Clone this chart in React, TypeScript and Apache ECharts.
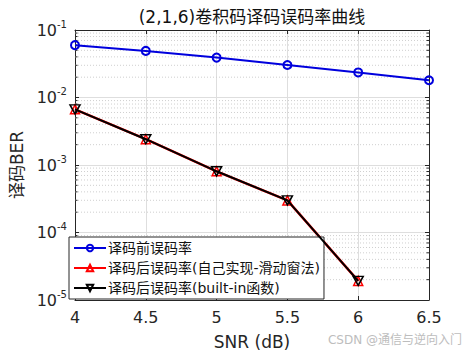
import React, { useEffect, useRef } from "react";
import * as echarts from "echarts";

const snr = [4, 4.5, 5, 5.5, 6, 6.5];
const berBefore = [0.0596, 0.049, 0.039, 0.0303, 0.0235, 0.018];
const berOwn = [0.00667, 0.00241, 0.000807, 0.000299, 0.0000192];
const berBuiltin = [0.00667, 0.00241, 0.000807, 0.000299, 0.0000192];
const seriesNames = ["译码前误码率", "译码后误码率(自己实现-滑动窗法)", "译码后误码率(built-in函数)"];
const minorGrid: number[] = [];
for (let e = -5; e < -1; e++) {
  for (let m = 2; m <= 9; m++) minorGrid.push(m * Math.pow(10, e));
}

const FONT = "'DejaVu Sans', 'Noto Sans CJK SC', sans-serif";
const downTri = "path://M0,0 L10,0 L5,9 Z";
const X_MIN = 4;
const X_MAX = 6.5;

export default function App() {
  const ref = useRef<HTMLDivElement>(null);
  useEffect(() => {
    if (!ref.current) return;
    const chart = echarts.init(ref.current, undefined, { renderer: "svg" });
    const pair = (ys: number[]) => ys.map((y, i) => [snr[i], y]);
    const axisColor = "#262626";
    chart.setOption({
      animation: false,
      backgroundColor: "#fff",
      textStyle: { fontFamily: FONT },
      title: {
        text: "(2,1,6)卷积码译码误码率曲线",
        left: 247,
        textAlign: "center",
        top: 3,
        textStyle: { fontSize: 17, fontWeight: "normal", color: "#111", fontFamily: FONT },
      },
      grid: { left: 65, right: 45, top: 30, bottom: 53, show: false },
      legend: {
        data: seriesNames,
        orient: "vertical",
        left: 69,
        top: 237,
        backgroundColor: "#fff",
        borderColor: axisColor,
        borderWidth: 1,
        borderRadius: 0,
        padding: [2, 4, 2, 4],
        itemGap: 2,
        itemWidth: 32,
        itemHeight: 8,
        textStyle: { fontSize: 14, color: "#111", fontFamily: FONT, lineHeight: 18, padding: [0, 0, 0, -3] },
      },
      xAxis: [
        {
          type: "value",
          min: X_MIN,
          max: X_MAX,
          interval: 0.5,
          name: "SNR (dB)",
          nameLocation: "middle",
          nameGap: 33,
          nameTextStyle: { fontSize: 17, color: axisColor, fontFamily: FONT },
          axisLine: { show: true, onZero: false, lineStyle: { color: axisColor, width: 1 } },
          axisTick: { show: true, inside: true, length: 4, lineStyle: { color: axisColor } },
          axisLabel: { fontSize: 16, color: axisColor, margin: 9, fontFamily: FONT },
          splitLine: { show: true, lineStyle: { color: "#dedede", width: 1 } },
        },
        {
          type: "value",
          position: "top",
          min: X_MIN,
          max: X_MAX,
          interval: 0.5,
          axisLine: { show: true, onZero: false, lineStyle: { color: axisColor, width: 1 } },
          axisTick: { show: true, inside: true, length: 4, lineStyle: { color: axisColor } },
          axisLabel: { show: false },
          splitLine: { show: false },
        },
      ],
      yAxis: [
        {
          type: "log",
          logBase: 10,
          min: 1e-5,
          max: 0.1,
          name: "译码BER",
          nameLocation: "middle",
          nameGap: 50,
          nameTextStyle: { fontSize: 17, color: axisColor, fontFamily: FONT },
          axisLine: { show: true, onZero: false, lineStyle: { color: axisColor, width: 1 } },
          axisTick: { show: true, inside: true, length: 4, lineStyle: { color: axisColor } },
          axisLabel: {
            margin: 8,
            color: axisColor,
            formatter: (v: number) => {
              const e = Math.round(Math.log10(v));
              return "{b|10}{s|" + e + "}";
            },
            rich: {
              b: { fontSize: 16, color: axisColor, fontFamily: FONT, lineHeight: 16, verticalAlign: "bottom" },
              s: { fontSize: 10, color: axisColor, fontFamily: FONT, lineHeight: 10, verticalAlign: "bottom", padding: [0, 0, 9, 0] },
            },
          },
          splitLine: { show: true, lineStyle: { color: "#dedede", width: 1 } },
        },
        {
          type: "log",
          logBase: 10,
          min: 1e-5,
          max: 0.1,
          position: "right",
          axisLine: { show: true, onZero: false, lineStyle: { color: axisColor, width: 1 } },
          axisTick: { show: true, inside: true, length: 4, lineStyle: { color: axisColor } },
          axisLabel: { show: false },
          splitLine: { show: false },
        },
      ],
      series: [
        {
          name: "minor-grid",
          type: "custom",
          silent: true,
          z: 1,
          encode: { x: 0, y: 1 },
          data: minorGrid.map((v) => [X_MIN, v]),
          renderItem: (_params: any, api: any) => {
            const v = api.value(1);
            const p1 = api.coord([X_MIN, v]);
            const p2 = api.coord([X_MAX, v]);
            return {
              type: "group",
              children: [
                {
                  type: "line",
                  shape: { x1: p1[0], y1: p1[1], x2: p2[0], y2: p2[1] },
                  style: { stroke: "#cfcfcf", lineDash: [1, 2], lineWidth: 1 },
                },
                {
                  type: "line",
                  shape: { x1: p1[0], y1: p1[1], x2: p1[0] + 2.5, y2: p1[1] },
                  style: { stroke: axisColor, lineWidth: 1 },
                },
                {
                  type: "line",
                  shape: { x1: p2[0], y1: p2[1], x2: p2[0] - 2.5, y2: p2[1] },
                  style: { stroke: axisColor, lineWidth: 1 },
                },
              ],
            };
          },
        },
        {
          name: seriesNames[0],
          type: "line",
          data: pair(berBefore),
          symbol: "circle",
          symbolSize: 8,
          lineStyle: { color: "#0000dd", width: 2 },
          itemStyle: { color: "rgba(255,255,255,0)", borderColor: "#0000dd", borderWidth: 2 },
          z: 3,
        },
        {
          name: seriesNames[1],
          type: "line",
          data: pair(berOwn),
          symbol: "triangle",
          symbolSize: 9,
          lineStyle: { color: "#ff0000", width: 2.5 },
          itemStyle: { color: "rgba(255,255,255,0)", borderColor: "#ff0000", borderWidth: 1.5 },
          z: 3,
        },
        {
          name: seriesNames[2],
          type: "line",
          data: pair(berBuiltin),
          symbol: downTri,
          symbolSize: [10, 9],
          lineStyle: { color: "#000", width: 2 },
          itemStyle: { color: "rgba(255,255,255,0)", borderColor: "#000", borderWidth: 1.5 },
          z: 4,
        },
      ],
      graphic: [
        {
          type: "text",
          right: 12,
          top: 334,
          style: { text: "CSDN @通信与逆向入门", fontSize: 12, fill: "#bdbdbd", fontFamily: FONT },
        },
      ],
    });
    return () => chart.dispose();
  }, []);
  return <div ref={ref} style={{ position: "absolute", left: 0, top: 0, width: 474, height: 355 }} />;
}
